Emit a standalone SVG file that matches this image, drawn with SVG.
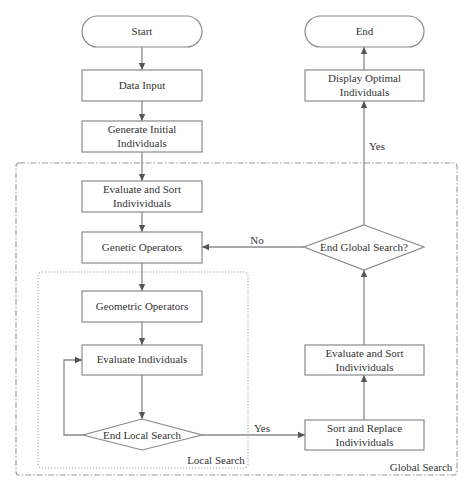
<svg xmlns="http://www.w3.org/2000/svg" width="474" height="492" viewBox="0 0 474 492">
<style>
.box{fill:#fff;stroke:#8a8a8a;stroke-width:1.2}
.t{font-family:"Liberation Serif","Times New Roman",serif;font-size:11px;fill:#333;text-anchor:middle}
.c{fill:none;stroke:#8a8a8a;stroke-width:1.3}
.g{fill:none;stroke:#999;stroke-width:1.1;stroke-dasharray:6,2,1.5,2}
.l{fill:none;stroke:#aaa;stroke-width:1.1;stroke-dasharray:1.3,1.7}
</style>
<defs>
<marker id="a" markerWidth="8" markerHeight="8" refX="7" refY="4" orient="auto" markerUnits="userSpaceOnUse">
<path d="M0,0.8 L7,4 L0,7.2 Z" fill="#555"/>
</marker>
</defs>
<rect width="474" height="492" fill="#fff"/>
<g id="groups">
<rect class="g" x="16" y="163" width="441" height="312" rx="3"/>
<rect class="l" x="38" y="272" width="210" height="196" rx="4"/>
<text class="t" x="216" y="464">Local Search</text>
<text class="t" x="421" y="471">Global Search</text>
</g>
<g id="connectors">
<path class="c" d="M142,47 V70" marker-end="url(#a)"/>
<path class="c" d="M142,101 V121" marker-end="url(#a)"/>
<path class="c" d="M142,152 V181" marker-end="url(#a)"/>
<path class="c" d="M142,212 V232" marker-end="url(#a)"/>
<path class="c" d="M142,263 V291" marker-end="url(#a)"/>
<path class="c" d="M142,322 V345" marker-end="url(#a)"/>
<path class="c" d="M142,375 V419" marker-end="url(#a)"/>
<path class="c" d="M83,435 H64 V360 H82" marker-end="url(#a)"/>
<path class="c" d="M202,435 H305" marker-end="url(#a)"/>
<path class="c" d="M364,420 V375" marker-end="url(#a)"/>
<path class="c" d="M364,345 V270" marker-end="url(#a)"/>
<path class="c" d="M304,247 H202" marker-end="url(#a)"/>
<path class="c" d="M364,225 V101" marker-end="url(#a)"/>
<path class="c" d="M364,70 V47" marker-end="url(#a)"/>
<text class="t" x="377" y="150">Yes</text>
<text class="t" x="257" y="244">No</text>
<text class="t" x="262" y="432">Yes</text>
</g>
<g id="start"><rect class="box" x="82" y="16" width="120" height="31" rx="15.5"/><text class="t" x="142" y="35">Start</text></g>
<g id="data-input"><rect class="box" x="82" y="70" width="120" height="31"/><text class="t" x="142" y="89">Data Input</text></g>
<g id="generate"><rect class="box" x="82" y="121" width="120" height="31"/><text class="t" x="142" y="133">Generate Initial</text><text class="t" x="142" y="147">Individuals</text></g>
<g id="eval-sort-1"><rect class="box" x="82" y="181" width="120" height="31"/><text class="t" x="142" y="193">Evaluate and Sort</text><text class="t" x="142" y="207">Indivividuals</text></g>
<g id="genetic"><rect class="box" x="82" y="232" width="120" height="31"/><text class="t" x="142" y="251">Genetic Operators</text></g>
<g id="geometric"><rect class="box" x="82" y="291" width="120" height="31"/><text class="t" x="142" y="310">Geometric Operators</text></g>
<g id="eval-ind"><rect class="box" x="82" y="345" width="120" height="30"/><text class="t" x="142" y="363">Evaluate Individuals</text></g>
<g id="end-local"><polygon class="box" points="142,419 202,435 142,450 83,435"/><text class="t" x="142" y="439">End Local Search</text></g>
<g id="end"><rect class="box" x="305" y="16" width="119" height="31" rx="15.5"/><text class="t" x="364.5" y="35">End</text></g>
<g id="display"><rect class="box" x="305" y="70" width="119" height="31"/><text class="t" x="364.5" y="82">Display Optimal</text><text class="t" x="364.5" y="96">Individuals</text></g>
<g id="end-global"><polygon class="box" points="364,225 424,247 364,270 304,247"/><text class="t" x="364" y="251">End Global Search?</text></g>
<g id="eval-sort-2"><rect class="box" x="305" y="345" width="119" height="30"/><text class="t" x="364.5" y="357">Evaluate and Sort</text><text class="t" x="364.5" y="371">Indivividuals</text></g>
<g id="sort-replace"><rect class="box" x="305" y="420" width="119" height="30"/><text class="t" x="364.5" y="432">Sort and Replace</text><text class="t" x="364.5" y="446">Indivividuals</text></g>
</svg>
